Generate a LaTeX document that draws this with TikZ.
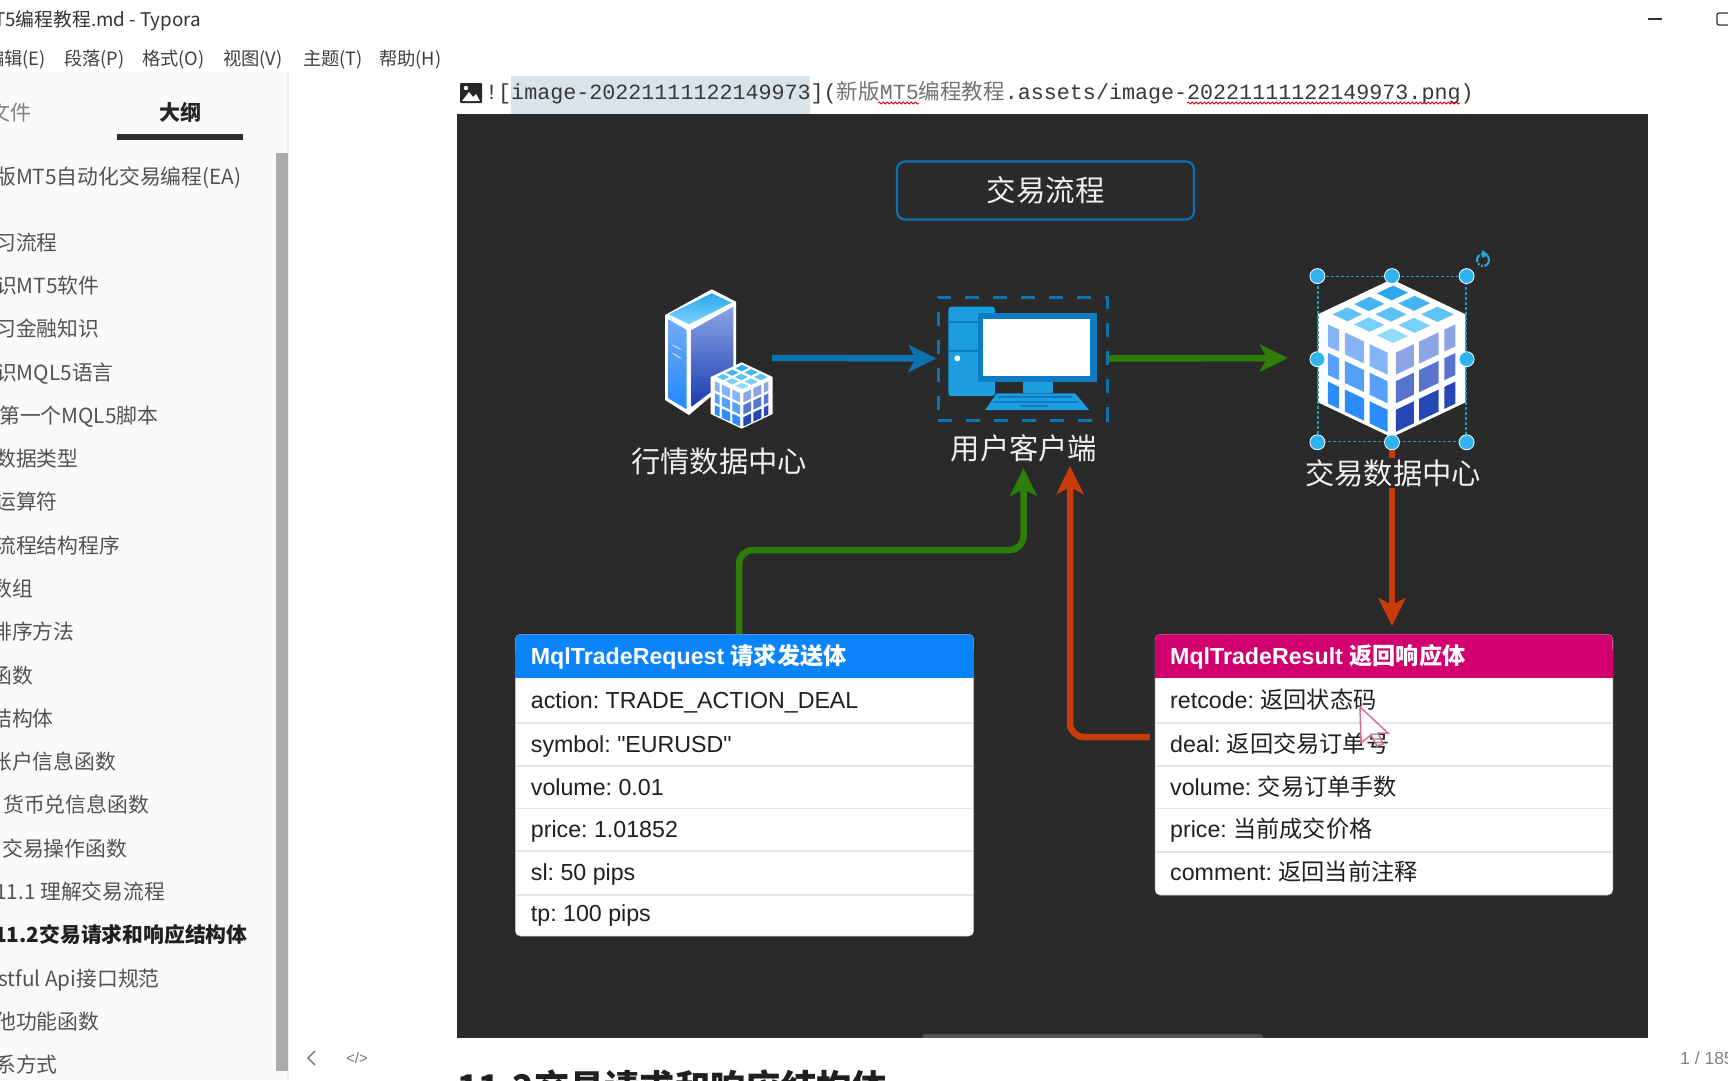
\documentclass[tikz,border=0pt]{standalone}
\usepackage{fontspec}
\usepackage{xcolor}
\setmainfont{Liberation Sans}
\newfontfamily\cjk{Noto Sans CJK SC}
\newfontfamily\mono{Liberation Mono}
\newfontfamily\plainsans{Liberation Sans}
\newcommand{\cj}[1]{{\cjk #1}}
\newcommand{\fsz}[1]{\fontsize{#1}{#1}\selectfont}
\usetikzlibrary{arrows.meta}
\usetikzlibrary{decorations.pathmorphing}

\definecolor{panelbg}{HTML}{2A2A2A}
\definecolor{flowblue}{HTML}{0D72B0}
\definecolor{flowgreen}{HTML}{2F7D0A}
\definecolor{flowred}{HTML}{C83C0A}
\definecolor{iconblue}{HTML}{1C9DDF}
\definecolor{icondark}{HTML}{0E7CC2}
\definecolor{handleblue}{HTML}{2DB4EE}
\definecolor{reqblue}{HTML}{0A84FA}
\definecolor{resred}{HTML}{D2006E}
\definecolor{rowline}{HTML}{E4E4E4}
\definecolor{marked}{HTML}{D9E4EA}
\definecolor{pointer}{HTML}{D87090}
\definecolor{leftc}{HTML}{85B4F6}
\definecolor{leftd}{HTML}{2088FA}
\definecolor{rightc}{HTML}{8AA4E6}
\definecolor{rightd}{HTML}{1A3CAE}
\definecolor{topc}{HTML}{92DCFA}
\definecolor{topd}{HTML}{2AA8EE}

\tikzset{
  datacube/.pic={
    \fill [white] (0,-70) -- (73.8,-35) -- (73.8,53) -- (0,88) -- (-73.8,53) -- (-73.8,-35) -- cycle;
    \foreach \ua/\ub [count=\i] in {0.136/0.286,0.364/0.627,0.70/0.945}
      \foreach \va/\vb [count=\j] in {0.06/0.31,0.385/0.635,0.71/0.96} {
        \pgfmathtruncatemacro\mixp{145-45*\j}
        \fill [leftc!\mixp!leftd]
          ({-73.8+73.8*\ua},{-35+35*\ua+88*\va}) -- ({-73.8+73.8*\ub},{-35+35*\ub+88*\va})
          -- ({-73.8+73.8*\ub},{-35+35*\ub+88*\vb}) -- ({-73.8+73.8*\ua},{-35+35*\ua+88*\vb}) -- cycle;
      }
    \foreach \ua/\ub [count=\i] in {0.055/0.30,0.373/0.636,0.714/0.864}
      \foreach \va/\vb [count=\j] in {0.06/0.31,0.385/0.635,0.71/0.96} {
        \pgfmathtruncatemacro\mixp{145-45*\j}
        \fill [rightc!\mixp!rightd]
          ({73.8*\ua},{-35*\ua+88*\va}) -- ({73.8*\ub},{-35*\ub+88*\va})
          -- ({73.8*\ub},{-35*\ub+88*\vb}) -- ({73.8*\ua},{-35*\ua+88*\vb}) -- cycle;
      }
    \foreach \ua/\ub [count=\i] in {0.10/0.30,0.39/0.60,0.70/0.92}
      \foreach \va/\vb [count=\j] in {0.10/0.30,0.39/0.60,0.70/0.92} {
        \pgfmathtruncatemacro\mixp{50+25*(\i-\j)}
        \fill [topc!\mixp!topd]
          ({-73.8+73.8*(\ua+\va)},{-35+35*(\ua-\va)}) -- ({-73.8+73.8*(\ub+\va)},{-35+35*(\ub-\va)})
          -- ({-73.8+73.8*(\ub+\vb)},{-35+35*(\ub-\vb)}) -- ({-73.8+73.8*(\ua+\vb)},{-35+35*(\ua-\vb)}) -- cycle;
      }
  }
}

\begin{document}
\frenchspacing
\begin{tikzpicture}[
  x=1pt, y=-1pt,
  flow/.style={line width=6.5pt, -{Stealth[length=28pt,width=27pt,inset=7pt]}},
  sideitem/.style={anchor=base west, inner sep=0pt, text=black!68, font=\cjk\fsz{20.8}},
  menuitem/.style={anchor=base west, inner sep=0pt, text=black!75, font=\cjk\fsz{18.3}},
  panellabel/.style={inner sep=1pt, fill=panelbg, text=white!94!black, font=\cjk\fsz{29.3}},
  headcell/.style={anchor=base west, inner sep=0pt, text=white, font=\bfseries\fsz{23.2}},
  rowcell/.style={anchor=base west, inner sep=0pt, text=black!88, font=\plainsans\fsz{23.2}},
  tablebody/.style={fill=white, draw=black!25, line width=0.5pt, rounded corners=5pt, inner sep=0pt},
  handle/.style={circle, fill=handleblue, draw=white, line width=0.8pt, inner sep=0pt, minimum size=15pt}
]

\useasboundingbox (0,0) rectangle (1728,1080);
\clip (0,0) rectangle (1728,1080);
\fill [white] (0,0) rectangle (1728,1080);

\node [anchor=base west, inner sep=0pt, text=black!80, font=\cjk\fsz{18.8}] (apptitle) at (-6,26) {T5编程教程.md - Typora};
\draw [black!80, line width=1.2pt] (1648,19) -- (1662,19);
\draw [black!80, line width=1.2pt, rounded corners=2pt] (1717,25) rectangle (1735,13);

\foreach \xx/\txt [count=\k] in {-14/编辑(E),64/段落(P),142/格式(O),223/视图(V),303/主题(T),379/帮助(H)}
  \node [menuitem] (menu\k) at (\xx,65) {\txt};

\fill [black!2] (0,72) rectangle (288,1080);
\fill [black!6] (287,72) rectangle (289,1080);
\fill [black!33] (276,153) rectangle (288,1071);
\node [anchor=base west, inner sep=0pt, text=black!50, font=\cjk\fsz{21}] (tabfile) at (-11,120) {文件};
\node [inner sep=0pt, text=black!85, font=\cjk\bfseries\fsz{21}] (tabtoc) at (180,112) {大纲};
\fill [black!82] (117,134) rectangle (243,140);

\foreach \yy/\xx/\txt [count=\k] in {
  176.3/-5/版MT5自动化交易编程(EA),242.4/-5/习流程,285.4/-4/识MT5软件,328.4/-5/习金融知识,
  372.5/-4/识MQL5语言,415.5/-1/第一个MQL5脚本,458.4/-5/数据类型,501.4/-5/运算符,
  545.5/-5/流程结构程序,588.5/-9/数组,631.4/-9/排序方法,675.5/-9/函数,
  718.5/-9/结构体,761.5/-9/账户信息函数,804.5/3/货币兑信息函数,848.5/2/交易操作函数,
  891.5/-5/11.1 理解交易流程,978.6/-2/stful Api接口规范,1021.6/-5/他功能函数,1064.5/-5/系方式}
  \node [sideitem] (side\k) at (\xx,{\yy+8}) {\txt};
\node [sideitem, font=\cjk\bfseries\fsz{20.8}, text=black!88] (sidecur) at (-6,942.5) {11.2交易请求和响应结构体};

\fill [marked] (511,76) rectangle (810,114);
\node [anchor=base west, inner sep=0pt, text=black!78, font=\mono\fsz{21.7}] (mdline) at (485,99)
  {![image-20221111122149973](\textcolor{black!55}{{\cjk\fsz{21.5}新版}MT5{\cjk\fsz{21.5}编程教程}}.assets/image-20221111122149973.png)};
\draw [red!80!black, line width=0.8pt, decorate, decoration={snake,amplitude=1pt,segment length=4pt}] (878,103) -- (919,103);
\draw [red!80!black, line width=0.8pt, decorate, decoration={snake,amplitude=1pt,segment length=4pt}] (1187,103) -- (1460,103);
\fill [black!85, rounded corners=1pt] (460,83) rectangle (482,103);
\fill [white] (462,101) -- (469,92) -- (473,97) -- (476,94) -- (480,101) -- cycle;
\fill [white] (466,88) circle [radius=2.2];

\fill [panelbg] (457,114) rectangle (1648,1038);
\fill [black!68, rounded corners=3pt] (922,1034) rectangle (1263,1042);
\fill [white] (900,1038) rectangle (1300,1044);

\node [draw=flowblue, line width=2.2pt, rounded corners=8pt, minimum width=297pt, minimum height=58pt,
  text=white!94!black, font=\cjk\fsz{29.5}] (flowtitle) at (1045.5,190.5) {交易流程};

\fill [white] (711.7,289.3) -- (736,301.7) -- (736,375) -- (689,415) -- (665,400) -- (665,315) -- cycle;
\shade [top color=topd, bottom color=topc!80!topd] (711.7,293.3) -- (731.7,302.7) -- (689,324.3) -- (669,314.3) -- cycle;
\shade [top color=leftc!80!leftd, bottom color=leftd] (668.3,319.3) -- (686.7,330) -- (686.7,409.3) -- (668.3,398.3) -- cycle;
\shade [top color=rightc, bottom color=rightd] (691.7,330) -- (733.3,306.7) -- (733.3,375) -- (691.7,406.7) -- cycle;
\draw [white!85!blue, line width=1pt] (672.7,345) -- (680.7,349.3) (672.7,353.3) -- (680.7,358.3);
\pic [scale=0.42] at (741.7,391.7) {datacube};
\coordinate (serverout) at (772,358);

\fill [iconblue, rounded corners=3pt] (948.3,306.7) rectangle (995,396);
\draw [icondark, line width=1.6pt] (948.3,321.7) -- (995,321.7) (948.3,350.7) -- (995,350.7);
\fill [white] (957.3,358.3) circle [radius=3];
\fill [icondark] (978.3,313.3) rectangle (1096.7,381.7);
\fill [white] (982.7,319.3) rectangle (1090,376);
\fill [iconblue] (1022.7,381.7) rectangle (1052.7,393);
\fill [iconblue] (996.7,393.3) -- (1075,393.3) -- (1089.3,410) -- (985,410) -- cycle;
\draw [icondark, line width=1.2pt] (998,397) -- (1072,397) (993,402) -- (1078,402) (1020,406) -- (1048,406);
\node [draw=flowblue, line width=3pt, dash pattern=on 14pt off 14pt, minimum width=169pt, minimum height=123pt] (client) at (1022.5,358.5) {};

\pic at (1391.7,349.3) {datacube};
\node [draw=handleblue!85!black, line width=1.2pt, densely dashed, minimum width=148pt, minimum height=165pt] (tradebox) at (1392,359.2) {};
\foreach \anc [count=\k] in {north west,north,north east,west,east,south west,south,south east}
  \node [handle] (grip\k) at (tradebox.\anc) {};
\draw [handleblue!90!black, line width=2.2pt, dash pattern=on 8pt off 1.5pt on 2pt off 1.5pt on 2pt off 1.5pt] (1483,260) circle [radius=6];
\fill [handleblue!90!black] (1482,250) -- (1489,255) -- (1482,258) -- cycle;
\coordinate (tradein) at (1288,358);

\coordinate (resin) at (1392,626);
\draw [flow, flowblue] (serverout) -- (client.west);
\draw [flow, flowgreen] (client.east) -- (tradein);
\draw [flow, flowred] (grip7) -- (resin);

\node [panellabel] (serverlabel) at (719,461) {行情数据中心};
\node [panellabel] (clientlabel) at (1024,448) {用户客户端};
\node [panellabel] (tradelabel) at (1393,473) {交易数据中心};

\coordinate (reqout) at (739,636);
\coordinate (clientgreen) at (1023.5,468);
\coordinate (greenbend) at (739,550);
\coordinate (resout) at (1150,737);
\coordinate (clientred) at (1070,466);
\draw [flow, flowgreen, rounded corners=14pt] (reqout) -- (greenbend) -- (greenbend -| clientgreen) -- (clientgreen);
\draw [flow, flowred, rounded corners=14pt] (resout) -- (resout -| clientred) -- (clientred);

\node [tablebody, minimum width=458.4pt, minimum height=301.7pt] (reqbody) at (744.5,785.2) {};
\fill [reqblue, rounded corners=5pt] (515.3,634.3) rectangle (973.7,665);
\fill [reqblue] (515.3,650) rectangle (973.7,678.3);
\foreach \yy in {722.7,766,808.3,850.7,894.7}
  \draw [rowline, line width=1.6pt] (515.8,\yy) -- (973.2,\yy);
\node [headcell] (reqhead) at (530.7,664) {MqlTradeRequest \cj{\bfseries 请求发送体}};
\foreach \yy/\txt [count=\k] in {708/action: TRADE\_ACTION\_DEAL,752/symbol: "EURUSD",795.7/volume: 0.01,837.3/price: 1.01852,880.3/sl: 50 pips,921.3/tp: 100 pips}
  \node [rowcell] (reqrow\k) at (530.7,\yy) {\txt};

\node [tablebody, minimum width=457.7pt, minimum height=260.7pt] (resbody) at (1383.9,764.7) {};
\fill [resred, rounded corners=5pt] (1155,634.3) rectangle (1612.7,665);
\fill [resred] (1155,650) rectangle (1612.7,678.3);
\foreach \yy in {722.7,766,808.3,852}
  \draw [rowline, line width=1.6pt] (1155.5,\yy) -- (1612.2,\yy);
\node [headcell] (reshead) at (1170,664) {MqlTradeResult \cj{\bfseries 返回响应体}};
\foreach \yy/\txt [count=\k] in {708/retcode: \cj{返回状态码},752/deal: \cj{返回交易订单号},795.7/volume: \cj{交易订单手数},837.3/price: \cj{当前成交价格},880.3/comment: \cj{返回当前注释}}
  \node [rowcell] (resrow\k) at (1170,\yy) {\txt};

\draw [draw=pointer, line width=1.5pt, fill=white, fill opacity=0.55]
  (1360,707) -- (1361,742.7) -- (1371,735) -- (1377,746) -- (1383,744) -- (1378,733) -- (1388,733) -- cycle;

\draw [black!60, line width=1.3pt] (315,1051) -- (308,1058) -- (315,1065);
\node [inner sep=0pt, text=black!55, font=\fsz{15}] (sourcemode) at (357,1058) {</>};
\node [anchor=base west, inner sep=0pt, text=black!50, font=\fsz{17.5}] (pagecount) at (1680,1064) {1 / 185};
\node [anchor=base west, inner sep=0pt, text=black!88, font=\cjk\bfseries\fsz{35.3}] (nexthead) at (457,1100) {11.2交易请求和响应结构体};

\end{tikzpicture}
\end{document}
